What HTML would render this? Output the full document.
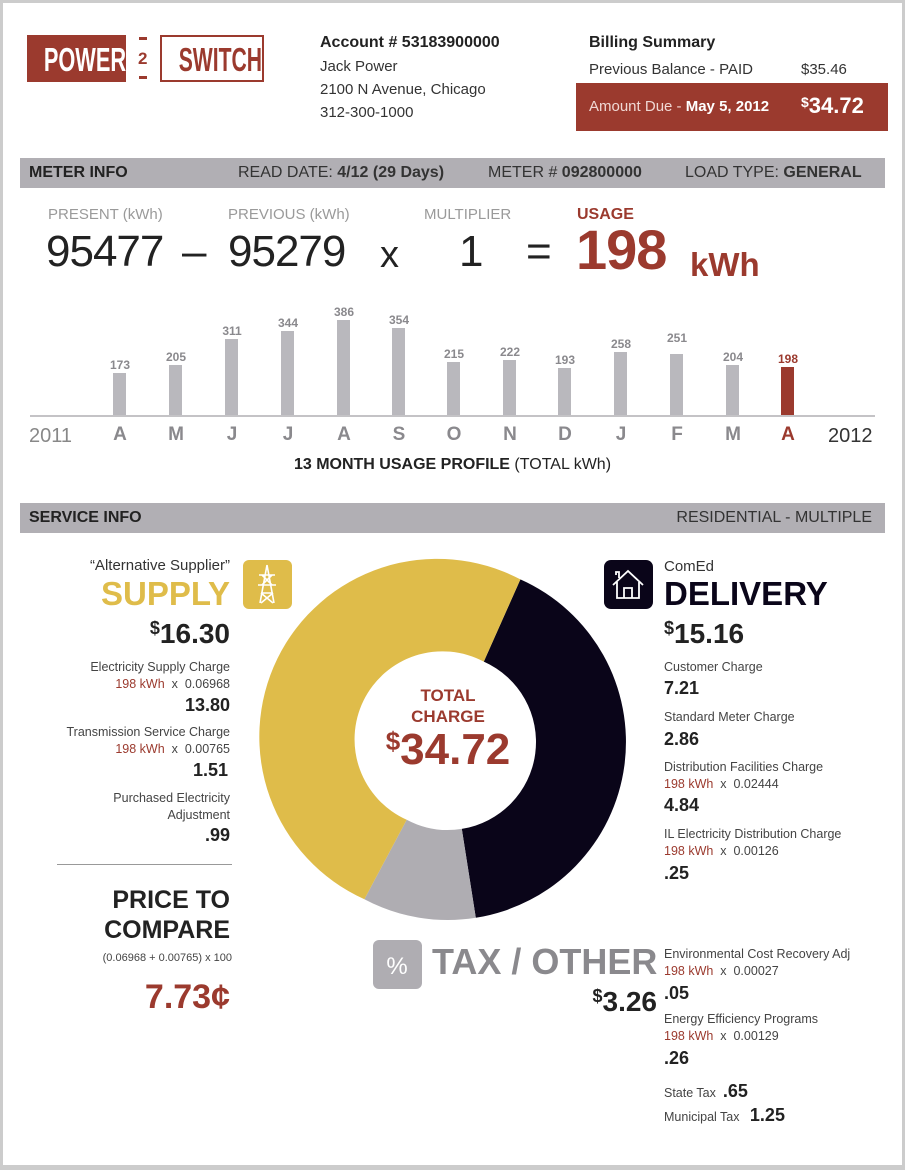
<!DOCTYPE html>
<html><head><meta charset="utf-8"><style>
*{margin:0;padding:0;box-sizing:border-box}
body{width:905px;height:1170px;background:#ccc;font-family:"Liberation Sans",sans-serif;position:relative;overflow:hidden}
#pg{position:absolute;left:3px;top:3px;width:899px;height:1162px;background:#fff}
.t{position:absolute;white-space:nowrap;line-height:1;color:#222}
.r{text-align:right}
.b{font-weight:bold}
.red{color:#9b3a2e}
.g{color:#8a8a8a}
.bar{position:absolute;background:#b9b8bd;width:13px}
.ml{position:absolute;top:425px;width:40px;margin-left:-20px;text-align:center;font-size:19px;font-weight:bold;color:#8a898d;line-height:1}
.bl{position:absolute;width:40px;margin-left:-20px;text-align:center;font-size:12px;font-weight:bold;color:#8a898d;line-height:1}
.big{position:absolute;white-space:nowrap;line-height:1;color:#222;font-size:44px;letter-spacing:-1px;top:230px}
</style></head><body><div id="pg"></div>

<!-- logo -->
<div style="position:absolute;left:27px;top:35px;width:99px;height:47px;background:#9b3a2e"></div>
<div class="t b" style="left:27px;width:99px;top:43px;text-align:center;color:#fff;font-size:33px;transform:scaleX(0.66)">POWER</div>
<div style="position:absolute;left:139px;top:37px;width:8px;height:3px;background:#9b3a2e"></div>
<div class="t b red" style="left:138px;top:50px;font-size:17px">2</div>
<div style="position:absolute;left:139px;top:76px;width:8px;height:3px;background:#9b3a2e"></div>
<div style="position:absolute;left:160px;top:35px;width:104px;height:47px;border:2px solid #9b3a2e"></div>
<div class="t b red" style="left:160px;width:104px;top:43px;text-align:center;font-size:33px;transform:scaleX(0.64)">SWITCH</div>

<div class="t b" style="left:320px;top:35px;font-size:16px">Account # 53183900000</div>
<div class="t" style="left:320px;top:59px;font-size:15px;color:#333">Jack Power</div>
<div class="t" style="left:320px;top:82px;font-size:15px;color:#333">2100 N Avenue, Chicago</div>
<div class="t" style="left:320px;top:105px;font-size:15px;color:#333">312-300-1000</div>

<div class="t b" style="left:589px;top:35px;font-size:16px">Billing Summary</div>
<div class="t" style="left:589px;top:62px;font-size:15px;color:#333">Previous Balance - PAID</div>
<div class="t" style="left:801px;top:62px;font-size:15px;color:#333">$35.46</div>
<div style="position:absolute;left:576px;top:83px;width:312px;height:48px;background:#9b3a2e"></div>
<div class="t" style="left:589px;top:99px;font-size:15px;color:#f0d8d4">Amount Due - <b style="color:#fff">May 5, 2012</b></div>
<div class="t b" style="left:801px;top:95px;font-size:22px;color:#fff"><span style="font-size:14px;vertical-align:6px">$</span>34.72</div>

<!-- meter bar -->
<div style="position:absolute;left:20px;top:158px;width:865px;height:30px;background:#b1afb4"></div>
<div class="t b" style="left:29px;top:165px;font-size:16px">METER INFO</div>
<div class="t" style="left:238px;top:165px;font-size:16px;color:#333">READ DATE: <b>4/12 (29 Days)</b></div>
<div class="t" style="left:488px;top:165px;font-size:16px;color:#333">METER # <b>092800000</b></div>
<div class="t" style="left:685px;top:165px;font-size:16px;color:#333">LOAD TYPE: <b>GENERAL</b></div>

<div class="t g" style="left:48px;top:207px;font-size:15px;color:#9a9a9a">PRESENT (kWh)</div>
<div class="t g" style="left:228px;top:207px;font-size:15px;color:#9a9a9a">PREVIOUS (kWh)</div>
<div class="t g" style="left:424px;top:207px;font-size:15px;color:#9a9a9a">MULTIPLIER</div>
<div class="t b red" style="left:577px;top:207px;font-size:16px">USAGE</div>
<div class="big" style="left:46px">95477</div>
<div class="big" style="left:182px">–</div>
<div class="big" style="left:228px">95279</div>
<div class="big" style="left:380px;font-size:38px;top:236px">x</div>
<div class="big" style="left:459px">1</div>
<div class="big" style="left:526px">=</div>
<div class="t b red" style="left:576px;top:222px;font-size:56px;letter-spacing:-1px">198</div>
<div class="t b red" style="left:690px;top:248px;font-size:33px">kWh</div>

<!-- chart -->
<div style="position:absolute;left:30px;top:415px;width:845px;height:2px;background:#c4c3c6"></div>
<div class="bar" style="left:113px;top:373px;height:42px"></div>
<div class="bar" style="left:169px;top:365px;height:50px"></div>
<div class="bar" style="left:225px;top:339px;height:76px"></div>
<div class="bar" style="left:281px;top:331px;height:84px"></div>
<div class="bar" style="left:337px;top:320px;height:95px"></div>
<div class="bar" style="left:392px;top:328px;height:87px"></div>
<div class="bar" style="left:447px;top:362px;height:53px"></div>
<div class="bar" style="left:503px;top:360px;height:55px"></div>
<div class="bar" style="left:558px;top:368px;height:47px"></div>
<div class="bar" style="left:614px;top:352px;height:63px"></div>
<div class="bar" style="left:670px;top:354px;height:61px"></div>
<div class="bar" style="left:726px;top:365px;height:50px"></div>
<div class="bar" style="left:781px;top:367px;height:48px;background:#9b3a2e"></div>
<div class="bl" style="left:120px;top:359px">173</div>
<div class="bl" style="left:176px;top:351px">205</div>
<div class="bl" style="left:232px;top:325px">311</div>
<div class="bl" style="left:288px;top:317px">344</div>
<div class="bl" style="left:344px;top:306px">386</div>
<div class="bl" style="left:399px;top:314px">354</div>
<div class="bl" style="left:454px;top:348px">215</div>
<div class="bl" style="left:510px;top:346px">222</div>
<div class="bl" style="left:565px;top:354px">193</div>
<div class="bl" style="left:621px;top:338px">258</div>
<div class="bl" style="left:677px;top:332px">251</div>
<div class="bl" style="left:733px;top:351px">204</div>
<div class="bl" style="left:788px;top:353px;color:#9b3a2e">198</div>
<div class="t" style="left:29px;top:426px;font-size:20px;color:#888">2011</div>
<div class="ml" style="left:120px">A</div><div class="ml" style="left:176px">M</div><div class="ml" style="left:232px">J</div><div class="ml" style="left:288px">J</div><div class="ml" style="left:344px">A</div><div class="ml" style="left:399px">S</div><div class="ml" style="left:454px">O</div><div class="ml" style="left:510px">N</div><div class="ml" style="left:565px">D</div><div class="ml" style="left:621px">J</div><div class="ml" style="left:677px">F</div><div class="ml" style="left:733px">M</div><div class="ml" style="left:788px;color:#9b3a2e">A</div>
<div class="t" style="left:828px;top:426px;font-size:20px;color:#333">2012</div>
<div class="t" style="left:0;width:905px;text-align:center;top:457px;font-size:16px;color:#222"><b>13 MONTH USAGE PROFILE</b> (TOTAL kWh)</div>

<!-- service bar -->
<div style="position:absolute;left:20px;top:503px;width:865px;height:30px;background:#b1afb4"></div>
<div class="t b" style="left:29px;top:510px;font-size:16px">SERVICE INFO</div>
<div class="t" style="right:33px;top:510px;font-size:16px;color:#333">RESIDENTIAL - MULTIPLE</div>

<!-- donut -->
<svg style="position:absolute;left:0;top:0" width="905" height="1170">
<path d="M520.4,579.4 A178,178 0 0 1 475.8,917.8 L461.8,828.9 A88,88 0 0 0 483.8,661.6 Z" fill="#0a0519"/>
<path d="M475.8,917.8 A178,178 0 0 1 364.4,899.2 L406.7,819.7 A88,88 0 0 0 461.8,828.9 Z" fill="#afadb2"/>
<path d="M364.4,899.2 A178,178 0 1 1 520.4,579.4 L483.8,661.6 A88,88 0 1 0 406.7,819.7 Z" fill="#dfbc4a"/>
<rect x="243" y="560" width="49" height="49" rx="6" fill="#dfbc4a"/>
<g stroke="#fff" stroke-width="1.6" fill="none"><path d="M267,565 L260,603 M267,565 L274,603 M259,575 H275 M258,585 H276 M262,575 L272,585 M272,575 L262,585 M261,593 L273,603 M273,593 L261,603 M261,593 H273"/></g>
<rect x="604" y="560" width="49" height="49" rx="7" fill="#0a0519"/>
<g stroke="#fff" stroke-width="1.8" fill="none"><path d="M613,585 L628,571 L643,585 M617,582 V598 H639 V582 M624,598 V588 H632 V598 M616,575 V572 H619 V578"/></g>
<rect x="373" y="940" width="49" height="49" rx="6" fill="#afadb2"/>
<text x="397" y="974" font-family="Liberation Sans" font-size="24" fill="#fff" text-anchor="middle">%</text>
</svg>
<div class="t b red" style="left:348px;width:200px;text-align:center;top:685px;font-size:17px;line-height:21px;white-space:normal">TOTAL<br>CHARGE</div>
<div class="t b red" style="left:348px;width:200px;text-align:center;top:728px;font-size:44px"><span style="font-size:26px;vertical-align:14px">$</span>34.72</div>

<!-- supply column -->
<div class="t r" style="right:675px;top:558px;font-size:15px;color:#333">“Alternative Supplier”</div>
<div class="t b r" style="right:675px;top:577px;font-size:33px;color:#dfbc4a">SUPPLY</div>
<div class="t b r" style="right:675px;top:619px;font-size:28px"><span style="font-size:18px;vertical-align:9px">$</span>16.30</div>
<div class="t r" style="right:675px;top:661px;font-size:12.5px;color:#444">Electricity Supply Charge</div>
<div class="t r" style="right:675px;top:678px;font-size:12.5px;color:#444"><span class="red">198 kWh</span> &nbsp;x &nbsp;0.06968</div>
<div class="t b r" style="right:675px;top:696px;font-size:18px">13.80</div>
<div class="t r" style="right:675px;top:726px;font-size:12.5px;color:#444">Transmission Service Charge</div>
<div class="t r" style="right:675px;top:743px;font-size:12.5px;color:#444"><span class="red">198 kWh</span> &nbsp;x &nbsp;0.00765</div>
<div class="t b r" style="right:677px;top:761px;font-size:18px">1.51</div>
<div class="t r" style="right:675px;top:790px;font-size:12.5px;color:#444;line-height:17px">Purchased Electricity<br>Adjustment</div>
<div class="t b r" style="right:675px;top:826px;font-size:18px">.99</div>
<div style="position:absolute;left:57px;top:864px;width:175px;height:1px;background:#999"></div>
<div class="t b r" style="right:675px;top:885px;font-size:25px;line-height:30px">PRICE TO<br>COMPARE</div>
<div class="t r" style="right:673px;top:953px;font-size:11px;color:#444">(0.06968 + 0.00765) x 100</div>
<div class="t b red r" style="right:675px;top:980px;font-size:34px">7.73¢</div>

<!-- delivery column -->
<div class="t" style="left:664px;top:559px;font-size:15px;color:#333">ComEd</div>
<div class="t b" style="left:664px;top:577px;font-size:33px;color:#0a0519">DELIVERY</div>
<div class="t b" style="left:664px;top:619px;font-size:28px"><span style="font-size:18px;vertical-align:9px">$</span>15.16</div>
<div class="t" style="left:664px;top:661px;font-size:12.5px;color:#444">Customer Charge</div>
<div class="t b" style="left:664px;top:679px;font-size:18px">7.21</div>
<div class="t" style="left:664px;top:711px;font-size:12.5px;color:#444">Standard Meter Charge</div>
<div class="t b" style="left:664px;top:730px;font-size:18px">2.86</div>
<div class="t" style="left:664px;top:761px;font-size:12.5px;color:#444">Distribution Facilities Charge</div>
<div class="t" style="left:664px;top:778px;font-size:12.5px;color:#444"><span class="red">198 kWh</span> &nbsp;x &nbsp;0.02444</div>
<div class="t b" style="left:664px;top:796px;font-size:18px">4.84</div>
<div class="t" style="left:664px;top:828px;font-size:12.5px;color:#444">IL Electricity Distribution Charge</div>
<div class="t" style="left:664px;top:845px;font-size:12.5px;color:#444"><span class="red">198 kWh</span> &nbsp;x &nbsp;0.00126</div>
<div class="t b" style="left:664px;top:864px;font-size:18px">.25</div>

<!-- tax -->
<div class="t b" style="left:432px;top:944px;font-size:36px;color:#8a898d">TAX / OTHER</div>
<div class="t b r" style="right:248px;top:987px;font-size:28px"><span style="font-size:18px;vertical-align:9px">$</span>3.26</div>
<div class="t" style="left:664px;top:948px;font-size:12.5px;color:#444">Environmental Cost Recovery Adj</div>
<div class="t" style="left:664px;top:965px;font-size:12.5px;color:#444"><span class="red">198 kWh</span> &nbsp;x &nbsp;0.00027</div>
<div class="t b" style="left:664px;top:984px;font-size:18px">.05</div>
<div class="t" style="left:664px;top:1013px;font-size:12.5px;color:#444">Energy Efficiency Programs</div>
<div class="t" style="left:664px;top:1030px;font-size:12.5px;color:#444"><span class="red">198 kWh</span> &nbsp;x &nbsp;0.00129</div>
<div class="t b" style="left:664px;top:1049px;font-size:18px">.26</div>
<div class="t" style="left:664px;top:1082px;font-size:12.5px;color:#444">State Tax &nbsp;<b style="font-size:18px;color:#222">.65</b></div>
<div class="t" style="left:664px;top:1106px;font-size:12.5px;color:#444">Municipal Tax &nbsp;&nbsp;<b style="font-size:18px;color:#222">1.25</b></div>
</body></html>
